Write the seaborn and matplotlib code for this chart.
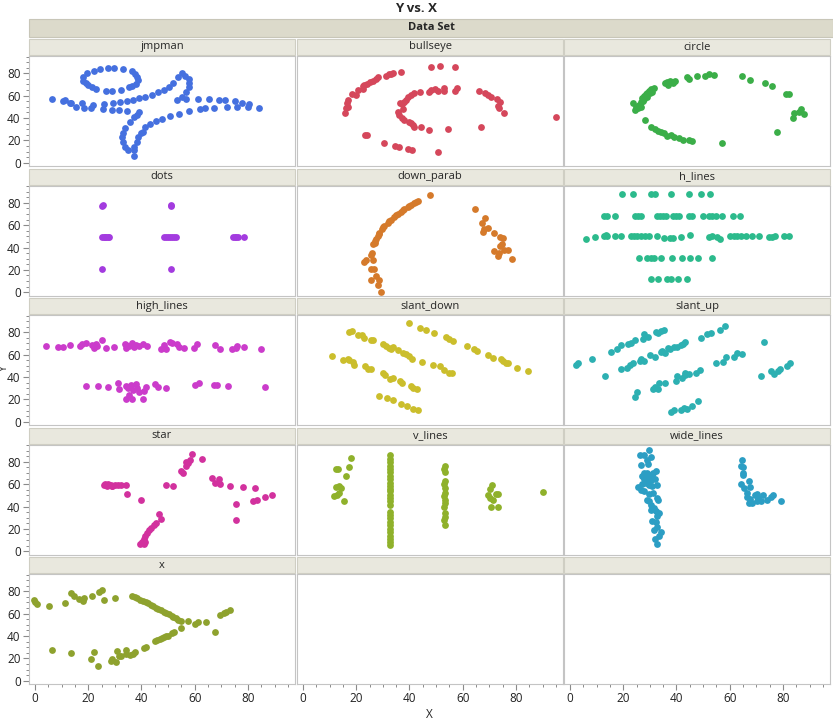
import numpy as np
import pandas as pd
import matplotlib
matplotlib.use("Agg")
import matplotlib.pyplot as plt
from matplotlib.patches import Rectangle
from matplotlib.ticker import MultipleLocator
import seaborn as sns

sns.set_theme(style="white")
plt.rcParams['font.family'] = ['Open Sans', 'DejaVu Sans']

# ---- data ----
jmpman_x = [6.3, 10.5, 11.2, 13.0, 13.5, 15.3, 17.5, 18.4, 20.9, 21.7, 25.4, 25.9, 28.8, 29.4, 31.5, 31.9,
            34.4, 34.7, 36.9, 39.2, 41.4, 43.9, 46.4, 48.5, 50.5, 52.0, 53.8, 55.1, 56.3, 58.0, 58.0, 57.7,
            56.7, 55.3, 56.7, 53.2, 61.2, 65.5, 69.2, 71.5, 75.0, 77.7, 80.5, 80.0, 76.0, 72.0, 67.2, 64.0,
            62.0, 57.7, 54.2, 50.7, 47.8, 45.3, 43.4, 41.3, 40.4, 39.7, 38.8, 38.2, 37.2, 37.2, 37.2, 35.0,
            33.8, 32.9, 32.6, 32.9, 33.9, 35.7, 37.3, 38.2, 39.2, 84.3,
            17.9, 18.2, 19.7, 22.3, 24.4, 27.5, 29.8, 33.2, 36.6, 37.6, 38.4, 38.8, 37.9, 36.6, 35.4, 32.3,
            29.0, 26.5, 22.8, 21.3, 20.0, 19.2]
jmpman_y = [57.3, 55.0, 56.0, 53.0, 53.7, 50.0, 53.0, 49.0, 48.6, 52.0, 47.7, 52.8, 47.0, 53.7, 47.0, 54.0,
            55.5, 46.0, 56.0, 57.9, 58.5, 60.9, 63.0, 65.0, 68.0, 71.5, 76.4, 80.0, 77.6, 74.6, 71.0, 67.4,
            63.0, 59.0, 56.7, 56.0, 57.3, 57.3, 56.0, 56.0, 55.0, 53.7, 52.5, 50.0, 50.0, 49.5, 49.2, 49.0,
            48.0, 46.0, 43.8, 41.5, 39.4, 37.3, 34.3, 31.6, 27.7, 26.2, 22.7, 18.8, 14.3, 11.3, 6.0, 11.3,
            14.3, 18.8, 23.3, 26.8, 31.3, 36.7, 40.6, 42.7, 45.3, 49.2,
            73.4, 77.0, 80.5, 82.3, 83.5, 84.4, 84.4, 83.8, 82.0, 79.3, 76.4, 74.0, 70.4, 68.6, 67.4, 65.0,
            64.4, 64.1, 65.6, 67.4, 69.5, 71.6]

bullseye_x = [48.0, 51.6, 57.2, 36.8, 34.0, 33.0, 31.2, 32.2, 28.3, 27.4, 26.2, 25.2, 23.9, 23.0, 22.4, 22.4,
              20.5, 19.9, 18.4, 16.9, 16.4, 16.8, 16.2, 15.9, 23.4, 23.9, 30.5, 34.6, 36.2, 39.3, 40.8, 50.6,
              43.9, 47.2, 48.1, 49.7, 50.6, 53.1, 52.8, 58.0, 57.2, 41.8, 40.6, 39.3, 38.7, 38.0, 37.2, 36.6,
              37.7, 35.6, 36.2, 37.2, 38.0, 39.9, 40.6, 41.4, 41.8, 44.4, 47.2, 54.6, 66.9, 66.0, 68.4, 69.4,
              70.6, 72.9, 74.0, 73.1, 73.7, 75.6, 95.0]
bullseye_y = [86.0, 86.2, 85.6, 81.4, 80.5, 79.4, 78.0, 79.0, 76.3, 75.2, 73.3, 72.0, 70.7, 69.8, 68.6, 65.6,
              65.0, 60.2, 61.4, 56.0, 53.7, 50.0, 48.6, 44.2, 25.0, 24.5, 17.9, 14.9, 14.3, 11.9, 11.6, 9.3,
              63.5, 63.5, 65.0, 65.6, 64.4, 66.5, 64.0, 66.8, 64.0, 62.0, 60.5, 59.0, 56.0, 53.9, 52.4, 53.0,
              47.7, 45.6, 42.7, 39.7, 38.2, 36.7, 35.2, 33.7, 32.2, 31.6, 29.2, 29.8, 31.6, 63.8, 62.0, 60.5,
              58.4, 56.7, 54.6, 50.7, 48.6, 44.7, 41.2]

circle_x = [24.4, 24.7, 23.8, 25.9, 26.5, 27.2, 27.8, 28.4, 29.0, 29.7, 30.5, 31.5, 26.5, 25.5, 27.8, 28.8,
            30.0, 30.9, 27.5, 35.6, 36.6, 37.6, 38.4, 39.4, 38.8, 36.8, 44.1, 44.7, 47.8, 50.6, 52.2, 54.1,
            64.7, 67.6, 73.2, 75.9, 81.0, 82.3, 86.9, 86.0, 87.9, 84.1, 83.9, 77.6, 57.1, 45.9, 44.7, 42.3,
            40.9, 39.1, 38.1, 36.6, 35.3, 34.1, 33.1, 31.8, 30.5, 28.0]
circle_y = [47.2, 50.1, 53.1, 51.6, 54.6, 57.6, 59.7, 61.5, 62.7, 64.5, 65.7, 66.6, 50.1, 48.6, 56.7, 59.1,
            62.1, 63.6, 55.5, 71.0, 72.5, 73.4, 72.2, 73.4, 71.0, 69.5, 77.0, 74.6, 77.6, 77.6, 79.4, 78.2,
            77.6, 74.0, 71.0, 68.9, 61.2, 61.2, 47.7, 45.7, 43.3, 44.2, 40.3, 27.5, 17.9, 19.7, 20.3, 20.3,
            22.4, 23.3, 24.8, 24.2, 26.3, 27.8, 28.4, 30.5, 32.3, 38.2]

dots_x = [25.3, 25.5, 51.0, 51.2, 25.3, 25.8, 26.3, 26.8, 27.3, 27.8, 48.4, 49.2, 50.0, 50.8, 51.6, 52.4,
          52.8, 74.4, 75.0, 75.6, 76.2, 78.5, 25.3, 51.0]
dots_y = [77.3, 77.8, 77.3, 77.8, 49.3, 49.8, 49.3, 49.6, 49.3, 49.8, 49.3, 49.8, 49.3, 49.6, 49.3, 49.8,
          49.3, 49.3, 49.6, 49.3, 49.6, 49.3, 21.2, 21.2]

down_parab_x = [47.7, 43.4, 42.6, 41.8, 40.6, 39.9, 39.3, 38.1, 37.4, 36.8, 35.6, 35.0, 34.3, 33.1, 32.5, 31.8,
                30.5, 30.1, 29.7, 28.7, 28.4, 28.1, 27.4, 27.1, 26.9, 26.4, 25.9, 25.5, 26.4, 23.7, 23.0, 25.5,
                26.8, 27.4, 25.5, 28.7, 28.0, 29.4, 64.5, 68.5, 67.2, 69.7, 67.5, 68.1, 71.9, 74.0, 75.0, 74.8,
                74.0, 71.9, 75.6, 77.0, 73.2, 73.7, 78.5]
down_parab_y = [86.6, 81.9, 81.0, 80.1, 78.4, 77.4, 76.3, 74.5, 73.3, 72.2, 69.8, 68.7, 67.4, 65.0, 63.8, 62.3,
                59.3, 58.0, 56.3, 53.3, 52.0, 50.3, 47.3, 45.8, 44.3, 42.8, 35.5, 33.4, 29.0, 29.0, 27.4, 20.6,
                20.6, 14.6, 11.0, 11.0, 6.3, 0.5, 74.9, 66.8, 61.8, 57.4, 54.3, 56.3, 52.8, 49.3, 48.3, 43.3,
                41.3, 37.0, 38.2, 37.6, 32.6, 35.5, 30.1]

h_lines_x = [19.7, 23.7, 30.5, 31.8, 37.8, 44.7, 49.1, 52.5,
             12.8, 13.8, 16.8, 24.3, 25.5, 26.8, 32.6, 33.8, 35.1, 35.9, 38.8, 39.7, 40.9, 44.7, 46.0, 50.1,
             52.2, 53.5, 54.7, 57.2, 61.3, 63.7,
             6.1, 9.3, 12.8, 13.4, 14.0, 16.8, 19.3, 22.8, 24.0, 25.0, 26.5, 28.0, 29.7, 32.8, 35.3, 37.6,
             38.8, 41.6, 45.1, 52.2, 53.5, 55.1, 56.3, 60.3, 61.6, 62.8, 64.1, 66.0, 68.5, 71.0, 74.7, 76.0,
             77.2, 80.4, 82.3,
             25.9, 29.0, 30.3, 31.5, 34.1, 38.2, 42.2, 45.1, 48.2, 53.2,
             30.5, 33.2, 36.6, 38.1, 40.7, 43.8]
h_lines_y = [88.0, 88.0, 88.0, 88.0, 88.0, 88.0, 88.0, 88.0,
             67.8, 68.4, 67.8, 67.8, 67.8, 67.8, 67.8, 67.8, 67.8, 67.8, 67.8, 67.8, 67.8, 67.8, 67.8, 67.8,
             67.8, 67.8, 67.8, 67.8, 67.8, 67.8,
             47.5, 49.2, 50.4, 51.0, 50.4, 50.4, 50.1, 50.1, 50.4, 50.4, 50.4, 50.7, 50.4, 50.4, 48.3, 48.3,
             48.3, 49.5, 51.0, 49.5, 50.4, 49.5, 47.7, 50.1, 50.4, 50.7, 50.4, 50.1, 50.1, 50.1, 49.8, 49.5,
             50.1, 50.4, 50.4,
             31.0, 31.0, 31.0, 31.0, 31.0, 31.0, 31.0, 31.0, 31.0, 31.0,
             11.4, 11.4, 11.4, 11.4, 11.4, 11.4]

high_lines_x = [4.0, 8.8, 10.5, 13.0, 16.8, 17.8, 19.3, 21.5, 22.2, 22.8, 23.4, 25.0, 26.5, 29.7, 33.8, 34.1,
                34.3, 35.3, 36.3, 37.2, 38.1, 39.1, 40.7, 42.2, 47.2, 48.5, 49.1, 50.6, 51.6, 53.5, 54.1, 56.0,
                59.7, 61.0, 67.6, 69.7, 73.9, 75.4, 76.0, 78.5, 84.8,
                19.3, 23.8, 27.5, 31.3, 31.5, 34.1, 35.1, 35.9, 36.8, 37.8, 38.4, 39.1, 41.6, 40.9, 34.1, 35.3,
                36.6, 40.6, 45.1, 46.3, 49.3, 60.3, 61.8, 67.2, 68.5, 72.5, 86.6]
high_lines_y = [67.8, 67.2, 67.2, 68.4, 67.8, 69.3, 70.2, 68.4, 66.3, 69.3, 67.8, 72.9, 66.3, 66.9, 69.9, 66.3,
                68.4, 67.8, 70.8, 67.2, 68.4, 67.8, 69.3, 67.8, 65.4, 68.4, 65.4, 71.3, 70.2, 69.3, 67.2, 66.3,
                66.3, 69.3, 68.4, 65.4, 64.8, 66.3, 67.8, 67.2, 64.8,
                32.0, 32.0, 31.4, 34.4, 29.6, 32.0, 30.5, 32.6, 28.4, 33.5, 30.5, 26.6, 31.4, 27.5, 20.6, 23.6,
                20.0, 20.0, 33.5, 31.4, 29.9, 32.9, 34.4, 32.6, 32.6, 32.0, 31.4]

slant_down_x = [39.7, 43.9, 46.4, 49.2, 53.7, 54.7, 56.2, 61.7, 64.4, 65.2, 69.4, 71.5, 74.5, 75.0, 76.2, 77.0,
                80.5, 84.6,
                17.4, 18.3, 20.5, 22.2, 23.0, 25.5, 26.2, 30.2, 31.2, 32.2, 33.7, 33.1, 35.6, 37.4, 38.7, 39.9,
                40.9, 44.9, 48.7, 51.5, 53.1, 54.7, 56.0,
                10.9, 14.9, 16.8, 17.4, 18.9, 19.3, 23.4, 24.3, 25.5, 29.9, 30.9, 32.8, 33.7, 36.6, 37.2, 40.6,
                41.4, 42.7,
                28.7, 31.4, 33.9, 36.9, 39.2, 41.2, 43.1]
slant_down_y = [88.7, 84.2, 82.1, 79.1, 75.4, 73.8, 72.0, 67.8, 64.8, 63.4, 59.4, 57.3, 55.8, 54.3, 52.8, 52.2,
                48.4, 45.4,
                80.3, 80.9, 77.3, 77.9, 74.9, 72.8, 72.8, 69.9, 67.8, 66.3, 67.2, 65.4, 64.2, 61.8, 60.3, 58.8,
                56.4, 53.4, 50.4, 49.9, 46.0, 43.9, 43.3,
                58.8, 55.3, 55.8, 55.3, 53.5, 51.1, 49.9, 47.5, 46.9, 43.3, 41.5, 37.9, 39.4, 36.4, 34.9, 31.9,
                30.5, 29.6,
                23.0, 21.5, 19.4, 16.1, 14.1, 11.7, 10.5]

slant_up_x = [2.3, 3.0, 8.4, 15.3, 17.8, 19.3, 21.8, 22.8, 24.3, 27.5, 27.8, 29.3, 32.2, 33.2, 34.3, 35.3,
              13.0, 19.3, 21.5, 22.5, 23.8, 26.3, 26.8, 27.8, 30.0, 31.8, 34.1, 34.7, 35.7, 36.8, 37.6, 39.1,
              40.3, 41.6, 42.6, 43.4, 49.3, 51.3, 52.8, 56.3, 58.1,
              24.3, 25.3, 31.2, 31.8, 33.2, 33.4, 35.6, 39.7, 40.3, 42.2, 43.1, 43.4, 44.7, 47.2, 48.8, 54.7,
              57.6, 58.6, 61.6, 62.6, 64.7, 72.9,
              38.1, 39.1, 41.8, 42.8, 44.1, 45.7, 48.1,
              71.6, 75.4, 76.6, 78.1, 79.1, 81.6, 82.6]
slant_up_y = [50.5, 52.3, 55.8, 62.4, 64.8, 68.4, 69.3, 70.8, 72.8, 74.3, 78.2, 76.1, 80.3, 79.7, 81.2, 82.1,
              40.9, 46.9, 48.4, 50.5, 52.3, 54.4, 55.8, 54.4, 59.8, 58.2, 62.4, 63.3, 61.8, 66.3, 65.4, 66.9,
              67.2, 68.4, 69.6, 71.3, 75.2, 78.8, 79.7, 82.1, 85.6,
              21.8, 26.9, 29.0, 31.4, 29.6, 34.9, 34.4, 36.5, 40.9, 39.4, 43.9, 41.5, 42.4, 43.3, 46.0, 52.3,
              53.8, 58.2, 57.9, 61.8, 60.9, 71.3,
              8.7, 10.5, 10.5, 12.6, 11.7, 14.1, 18.6,
              40.9, 45.4, 42.4, 45.4, 47.5, 49.9, 52.9]

star_x = [26.0, 26.6, 27.2, 27.8, 28.4, 29.0, 30.2, 31.1, 32.2, 26.4, 27.5, 28.8, 34.3, 34.7, 39.7, 46.5,
          47.2, 45.5, 44.6, 43.7, 42.7, 42.0, 41.4, 40.8, 40.1, 39.5, 40.8, 41.4, 49.4, 51.7, 54.9, 55.8,
          56.8, 57.5, 58.1, 56.8, 59.1, 62.6, 66.4, 67.7, 69.0, 69.7, 73.2, 78.3, 82.7, 75.7, 75.4, 82.0,
          83.5, 86.6, 88.9]
star_y = [59.0, 59.6, 58.6, 59.2, 59.6, 58.8, 59.2, 59.0, 59.0, 60.0, 60.2, 58.4, 59.0, 51.3, 45.8, 33.0,
          28.4, 25.3, 23.2, 20.7, 18.6, 16.5, 14.0, 11.0, 7.9, 6.4, 6.4, 7.9, 59.0, 58.4, 71.5, 70.0,
          76.7, 78.9, 81.3, 79.8, 86.8, 82.2, 65.1, 60.8, 64.5, 60.2, 58.4, 57.5, 56.8, 42.2, 27.8, 44.6,
          45.8, 48.3, 50.7]

v_lines_x = [18.2, 17.3, 16.3, 12.4, 13.0, 12.4, 13.7, 14.3, 12.6, 11.7, 13.7, 15.3,
             32.7, 32.6, 32.8, 32.7, 32.6, 32.8, 32.7, 32.6, 32.8, 32.7, 32.6, 32.8, 32.7, 32.6, 32.8, 32.7,
             32.6, 32.8, 32.7, 32.6, 32.8, 32.7, 32.6, 32.8, 32.7, 32.6, 32.8,
             53.2, 53.1, 53.3, 53.2, 53.1, 53.3, 53.2, 53.1, 53.3, 53.2, 53.1, 53.3, 53.2, 53.1, 53.2,
             71.1, 70.2, 69.5, 70.2, 71.5, 72.7, 73.4, 70.8, 73.4, 90.1]
v_lines_y = [83.8, 75.8, 67.5, 73.6, 73.6, 57.4, 58.4, 56.2, 50.7, 49.2, 52.3, 45.2,
             85.9, 82.8, 79.8, 76.7, 73.7, 70.6, 67.6, 64.5, 61.4, 58.4, 55.3, 53.8, 50.7, 47.7, 44.6, 41.6,
             35.5, 32.4, 29.3, 26.3, 23.2, 20.1, 17.1, 14.0, 11.0, 7.9, 5.4,
             76.7, 73.7, 70.6, 63.0, 60.0, 56.9, 52.3, 49.2, 46.1, 43.1, 40.0, 33.9, 30.8, 27.8, 23.2,
             59.3, 55.3, 50.7, 47.7, 46.1, 51.3, 51.3, 40.0, 40.0, 53.2]

wide_lines_x = [29.7, 26.3, 27.8, 30.5, 28.8, 29.3, 26.8, 32.2, 31.3, 27.8, 29.0, 30.0, 28.4, 29.7, 30.9, 27.2,
                27.8, 29.3, 30.5, 31.8, 32.8, 30.9, 29.7, 28.4, 27.2, 25.5, 26.5, 27.8, 29.7, 31.3, 32.8, 33.1,
                29.0, 29.7, 30.5, 31.5, 30.3, 32.2, 33.4, 32.6, 30.9, 32.2, 32.8, 31.5, 34.1, 33.4, 31.8, 32.8,
                64.7, 64.1, 65.1, 65.1, 64.9, 64.4, 67.4, 65.4, 67.5, 66.4, 66.4, 67.6, 69.4, 70.1, 67.2, 68.5,
                70.4, 70.6, 72.6, 71.9, 73.9, 75.4, 76.4, 79.4]
wide_lines_y = [90.7, 86.2, 86.2, 84.0, 81.7, 78.2, 77.3, 71.4, 69.9, 69.9, 69.9, 68.4, 66.9, 66.9, 66.3, 67.5,
                64.5, 64.5, 63.9, 64.5, 59.4, 58.5, 59.4, 60.9, 60.3, 57.9, 54.9, 53.5, 51.4, 52.0, 47.5, 45.4,
                46.0, 44.5, 41.5, 38.5, 36.5, 35.6, 34.1, 31.7, 26.6, 25.7, 22.1, 19.1, 17.6, 13.2, 10.8, 6.6,
                81.2, 76.6, 75.4, 70.0, 68.0, 60.3, 62.6, 56.5, 57.3, 52.0, 48.4, 46.6, 50.5, 51.4, 43.0, 43.0,
                44.5, 47.5, 50.5, 44.5, 45.4, 48.4, 50.2, 44.5]

x_shape_x = [-0.4, 0.0, 0.9, 5.1, 11.2, 13.4, 14.5, 16.4, 17.9, 18.6, 21.3, 24.0, 25.0, 25.9, 30.1,
             36.4, 37.4, 38.4, 39.6, 40.5, 41.6, 42.5, 43.5, 44.4, 45.4, 46.4, 47.4, 48.3, 49.3, 50.3, 51.3,
             52.0, 52.8, 53.8, 55.0, 57.5, 60.3, 61.1, 64.4, 67.5, 69.7, 70.9, 71.7, 73.1,
             6.3, 13.6, 21.1, 22.2, 23.6, 28.6, 29.1, 30.3, 30.8, 31.5, 32.3, 34.3, 34.3, 35.6, 36.8, 37.7,
             41.0, 41.6, 45.1, 45.9, 46.8, 47.6, 48.3, 49.2, 49.9, 51.4, 52.4, 55.0]
x_shape_y = [72.6, 70.8, 69.0, 67.2, 69.3, 78.5, 76.1, 73.2, 71.1, 74.3, 75.5, 79.1, 81.5, 72.6, 73.8,
             76.1, 74.6, 73.7, 72.5, 71.1, 70.2, 69.3, 67.8, 66.6, 65.4, 64.2, 63.1, 61.9, 60.7, 59.5, 58.3,
             57.1, 55.9, 54.7, 53.8, 53.2, 50.9, 52.9, 52.9, 43.4, 59.2, 60.7, 61.9, 63.1,
             27.1, 25.0, 19.0, 25.6, 12.8, 17.2, 19.0, 16.7, 26.2, 22.0, 22.0, 27.1, 24.1, 22.6, 24.1, 25.6,
             29.7, 30.0, 35.1, 36.0, 36.9, 38.1, 39.0, 39.9, 40.4, 42.8, 44.0, 47.0]

names = ["jmpman", "bullseye", "circle", "dots", "down_parab", "h_lines", "high_lines",
         "slant_down", "slant_up", "star", "v_lines", "wide_lines", "x"]
colors = ["#4570DF", "#D5475B", "#3BAE48", "#A33BDF", "#D57A2B", "#2CBA8C", "#CB3CCB",
          "#CBBE2C", "#2DB0B2", "#D2319E", "#8FB12B", "#2C9EC4", "#8EA22E"]
xs = [jmpman_x, bullseye_x, circle_x, dots_x, down_parab_x, h_lines_x, high_lines_x,
      slant_down_x, slant_up_x, star_x, v_lines_x, wide_lines_x, x_shape_x]
ys = [jmpman_y, bullseye_y, circle_y, dots_y, down_parab_y, h_lines_y, high_lines_y,
      slant_down_y, slant_up_y, star_y, v_lines_y, wide_lines_y, x_shape_y]

df = pd.concat([pd.DataFrame({"dataset": n, "X": x, "Y": y}) for n, x, y in zip(names, xs, ys)],
               ignore_index=True)

# ---- layout (pixel based) ----
W, H = 833, 723
fig = plt.figure(figsize=(W / 100, H / 100), dpi=100)
fig.patch.set_facecolor("white")


def fx(px):
    return px / W


def fy(py):
    return 1 - py / H


col_left = [29, 297, 564]
pw = 266
row_pitch = 129.5

fig.text(fx(416), fy(8), "Y vs. X", ha="center", va="center", fontsize=9.5, fontweight="bold")
fig.patches.append(Rectangle((fx(29), fy(37)), fx(833) - fx(29), fy(19) - fy(37), transform=fig.transFigure,
                             facecolor="#DCDACB", edgecolor="#C8C6B8", lw=0.8))
fig.text(fx(431), fy(28), "Data Set", ha="center", va="center", fontsize=8, fontweight="bold")

for r in range(5):
    for c in range(3):
        i = r * 3 + c
        top = 56 + row_pitch * r
        bottom = 166 + row_pitch * r
        left = col_left[c]
        # header strip
        fig.patches.append(Rectangle((fx(left), fy(top - 1)), fx(pw), fy(top - 17) - fy(top - 1),
                                     transform=fig.transFigure, facecolor="#E9E8DE",
                                     edgecolor="#CFCEC3", lw=0.8))
        ax = fig.add_axes([fx(left), fy(bottom), fx(pw), fy(top) - fy(bottom)])
        if i < len(names):
            fig.text(fx(left + pw / 2), fy(top - 9), names[i], ha="center", va="center", fontsize=8)
            sub = df[df.dataset == names[i]]
            sns.scatterplot(data=sub, x="X", y="Y", color=colors[i], s=24, linewidth=0,
                            legend=False, ax=ax)
        ax.set_xlim(-2.25, 97.7)
        ax.set_ylim(-2.95, 95.5)
        ax.set_xlabel("")
        ax.set_ylabel("")
        ax.xaxis.set_major_locator(MultipleLocator(20))
        ax.xaxis.set_minor_locator(MultipleLocator(5))
        ax.yaxis.set_major_locator(MultipleLocator(20))
        ax.yaxis.set_minor_locator(MultipleLocator(5))
        for sp in ax.spines.values():
            sp.set_color("#C4C4C4")
            sp.set_linewidth(0.8)
        ax.tick_params(which="both", direction="out", color="#8A8A8A", labelsize=8.5,
                       labelcolor="#222222", pad=2)
        ax.tick_params(which="major", length=4, width=0.8)
        ax.tick_params(which="minor", length=2.5, width=0.7)
        show_y = c == 0
        show_x = r == 4
        ax.tick_params(axis="y", which="both", left=show_y, labelleft=show_y)
        ax.tick_params(axis="x", which="both", bottom=show_x, labelbottom=show_x)

fig.text(fx(429), fy(714), "X", ha="center", va="center", fontsize=8.5)
fig.text(fx(4.5), fy(368), "Y", ha="center", va="center", fontsize=7.5, rotation=90)

fig.savefig("out.png", dpi=100, facecolor="white")
